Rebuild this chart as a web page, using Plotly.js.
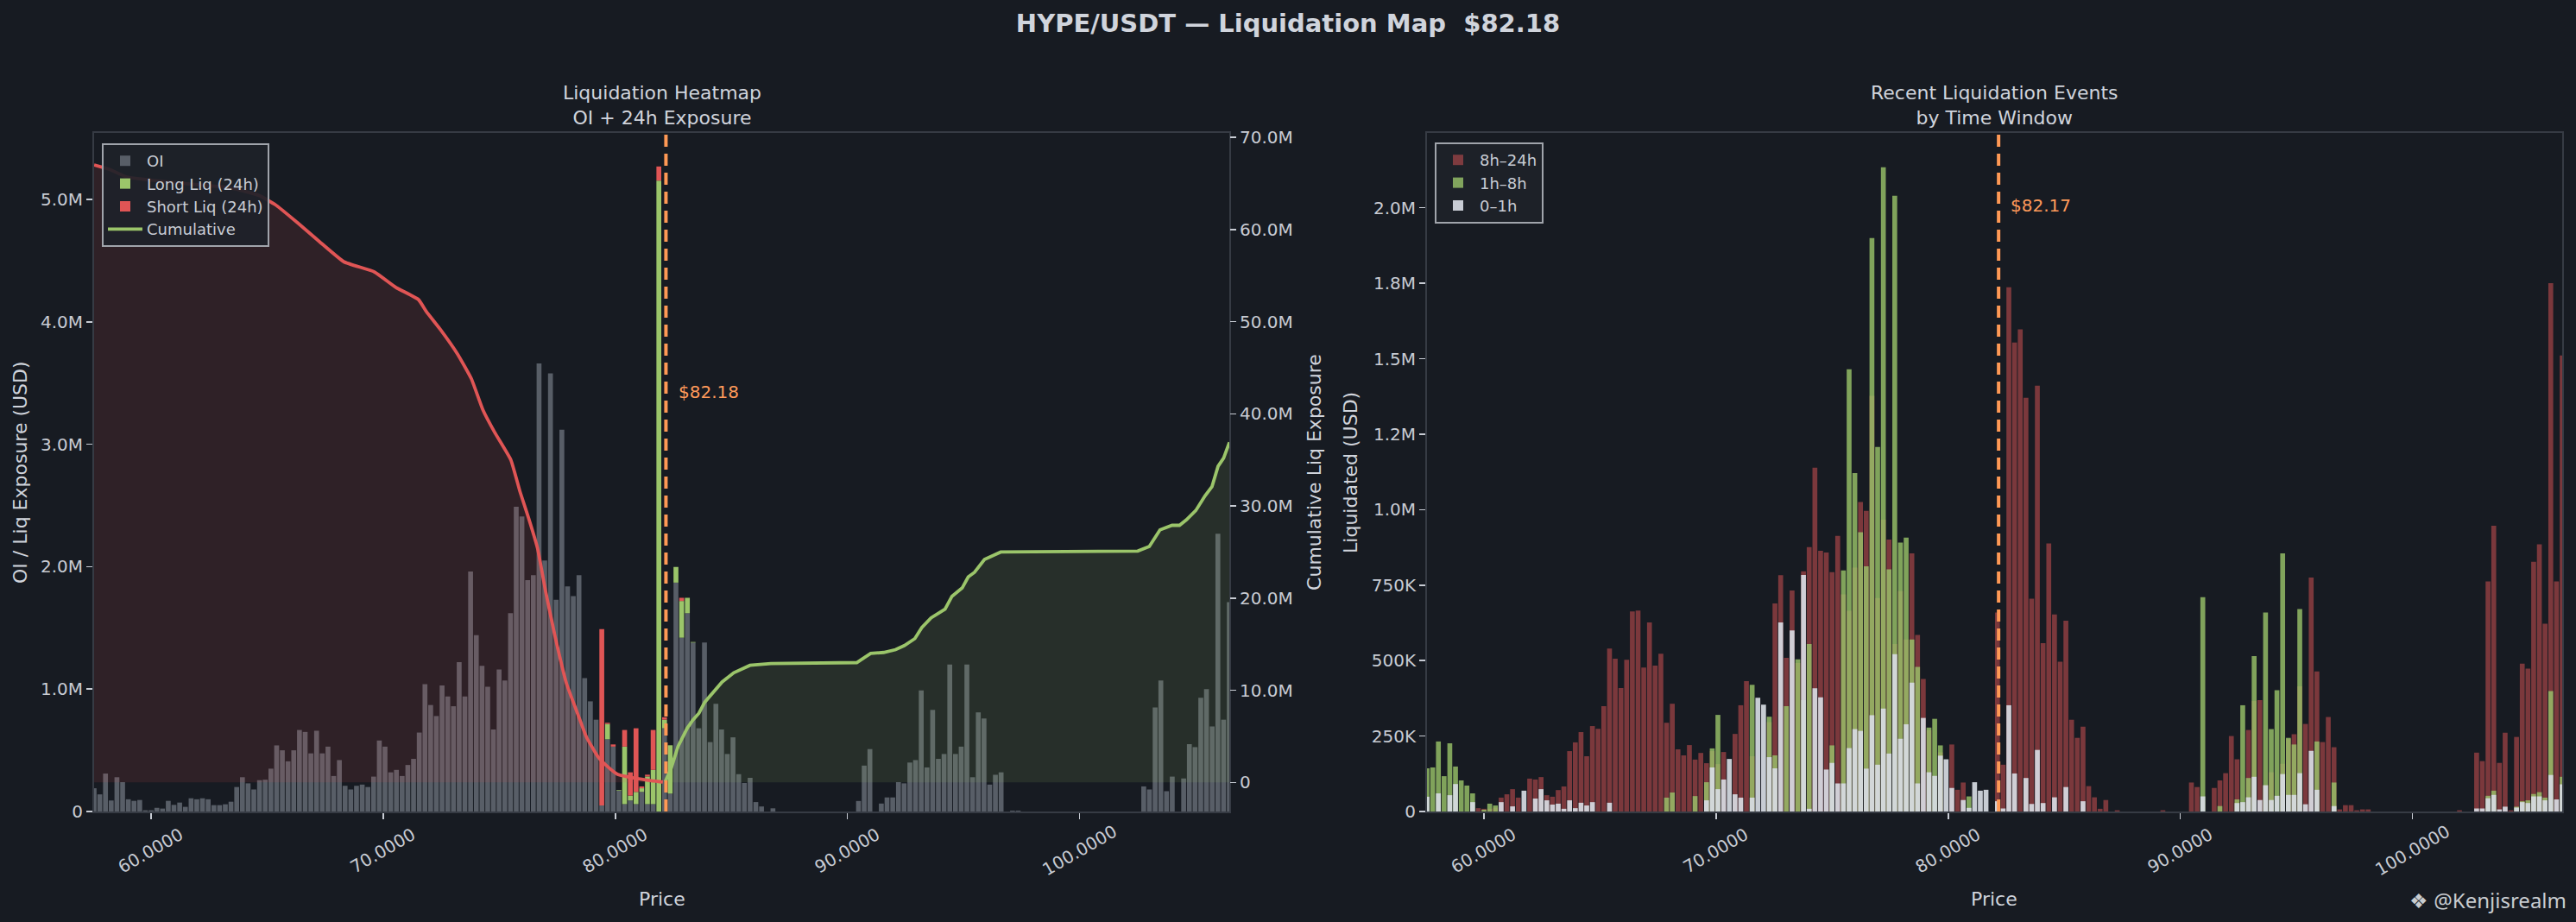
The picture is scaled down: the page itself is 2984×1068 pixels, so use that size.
<!DOCTYPE html>
<html>
<head>
<meta charset="utf-8">
<script src="https://cdn.plot.ly/plotly-3.0.1.min.js"></script>
<style>html,body{margin:0;padding:0;background:#171b22;}#chart{width:2984px;height:1068px;}</style>
</head>
<body>
<div id="chart"></div>
<script>
// ---------- price bins (200 bins) ----------
const priceStart = 57.55;
const priceStep = 0.2457;

// ---------- left panel: OI + 24h exposure (values in USD millions) ----------
const oiM = [
0.19,0.14,0.31,0.09,0.28,0.24,0.10,0.087,0.094,0.01,
0.01,0.03,0.024,0.087,0.054,0.073,0.038,0.108,0.10,0.108,
0.10,0.052,0.052,0.059,0.08,0.20,0.28,0.23,0.18,0.256,
0.26,0.35,0.54,0.50,0.41,0.50,0.666,0.65,0.475,0.66,
0.475,0.53,0.29,0.42,0.21,0.18,0.21,0.22,0.20,0.285,
0.58,0.53,0.32,0.34,0.29,0.38,0.43,0.645,1.04,0.87,
0.78,1.03,0.94,0.86,1.22,0.94,1.96,1.44,1.19,1.02,
0.67,1.16,1.07,1.62,2.49,2.41,1.89,1.93,3.66,2.05,
3.58,1.73,3.12,1.84,1.76,1.93,1.09,0.90,0.75,0.05,
0.59,0.53,0.17,0.06,0.09,0.06,0.16,0.06,0.06,0,
0.68,0.146,1.87,1.42,1.62,1.38,0.68,1.38,0.567,0.88,
0.67,0.47,0.606,0.305,0.233,0.275,0.077,0.041,0,0.026,
0,0,0,0,0,0,0,0,0,0,
0,0,0,0,0.086,0.375,0.51,0,0.065,0.115,
0.115,0.24,0.23,0.40,0.42,0.99,0.36,0.83,0.43,0.47,
1.20,0.47,0.53,1.20,0.28,0.81,0.76,0.22,0.30,0.32,
0,0.007,0.007,0,0,0,0,0,0,0,
0,0,0,0,0,0,0,0,0,0,
0,0,0,0,0.205,0.18,0.85,1.07,0.166,0.285,
0,0.27,0.55,0.526,0.93,1.0,0.695,2.27,0.75,1.71
];
const longM = [
0,0,0,0,0,0,0,0,0,0, 0,0,0,0,0,0,0,0,0,0,
0,0,0,0,0,0,0,0,0,0, 0,0,0,0,0,0,0,0,0,0,
0,0,0,0,0,0,0,0,0,0, 0,0,0,0,0,0,0,0,0,0,
0,0,0,0,0,0,0,0,0,0, 0,0,0,0,0,0,0,0,0,0,
0,0,0,0,0,0,0,0,0,0,
0.125,0,0.005,0.47,0.04,0.10,0.03,0.226,0.28,5.155,
0.07,0.395,0.128,0.30,0.126,0.005,0,0,0,0,
0,0,0,0,0,0,0,0,0,0, 0,0,0,0,0,0,0,0,0,0,
0,0,0,0,0,0,0,0,0,0, 0,0,0,0,0,0,0,0,0,0,
0,0,0,0,0,0,0,0,0,0, 0,0,0,0,0,0,0,0,0,0,
0,0,0,0,0,0,0,0,0,0, 0,0,0,0,0,0,0,0,0,0
];
const shortM = [
0,0,0,0,0,0,0,0,0,0, 0,0,0,0,0,0,0,0,0,0,
0,0,0,0,0,0,0,0,0,0, 0,0,0,0,0,0,0,0,0,0,
0,0,0,0,0,0,0,0,0,0, 0,0,0,0,0,0,0,0,0,0,
0,0,0,0,0,0,0,0,0,0, 0,0,0,0,0,0,0,0,0,0,
0,0,0,0,0,0,0,0,0,1.44,
0.01,0.018,0,0.136,0.19,0.52,0.015,0.015,0.326,0.115,
0.02,0,0,0.026,0,0,0,0,0,0,
0,0,0,0,0,0,0,0,0,0, 0,0,0,0,0,0,0,0,0,0,
0,0,0,0,0,0,0,0,0,0, 0,0,0,0,0,0,0,0,0,0,
0,0,0,0,0,0,0,0,0,0, 0,0,0,0,0,0,0,0,0,0,
0,0,0,0,0,0,0,0,0,0, 0,0,0,0,0,0,0,0,0,0
];

// cumulative exposure curves (USD millions, right axis)
const cumShortPrice = [57.55,58.24,58.95,60.6,63.46,64.65,65.35,66.28,67.25,68.31,69.62,70.56,71.52,71.86,72.45,73.2,73.8,74.3,74.8,75.5,75.9,76.25,76.65,77.0,77.4,77.9,78.4,78.76,79.26,79.6,80.1,80.9,81.5,82.05];
const cumShortM     = [67.0,66.5,65.7,65.2,64.5,63.7,62.7,60.8,58.7,56.5,55.4,53.7,52.4,51.1,49.2,46.5,43.8,40.4,38.0,35.0,31.5,28.8,25.4,20.7,15.9,10.7,7.3,4.9,2.75,1.86,0.87,0.43,0.2,0.03];
const cumLongPrice = [82.15,82.4,82.7,83.1,83.35,83.6,83.85,84.2,84.6,85.1,85.8,86.7,90.4,91.0,91.56,92.07,92.45,92.9,93.2,93.6,94.2,94.5,94.94,95.2,95.47,95.9,96.6,102.5,103.0,103.46,103.98,104.3,104.6,105.0,105.4,105.7,105.96,106.2,106.45];
const cumLongM     = [0.1,1.5,3.9,5.9,6.8,7.5,8.7,9.7,10.9,11.9,12.7,12.9,13.0,14.0,14.1,14.4,14.85,15.6,16.8,17.85,18.8,20.2,21.1,22.3,22.8,24.2,25.0,25.1,25.6,27.4,27.9,27.9,28.5,29.5,31.1,32.1,34.3,35.2,36.9];

// ---------- right panel: recent liquidations by window (USD thousands) ----------
const liq8to24K = [
0,0,0,0,0,0,0,0,0,11,
9,9,13,46,57,74,46,0,109,106,
114,54,49,71,83,200,229,263,183,283,
274,349,540,506,409,503,663,666,477,626,
483,523,294,357,206,186,220,172,194,160,
200,157,197,0,257,352,432,183,0,0,
296,689,783,509,732,492,796,876,1139,864,
858,793,913,719,665,808,1025,996,1377,707,
967,901,555,730,570,855,585,439,270,0,
196,0,222,72,96,0,0,0,0,0,
659,155,1737,1554,1597,1371,705,1411,558,888,
653,496,632,304,244,281,84,47,9,38,
0,4,0,0,0,0,0,0,0,4,
0,0,0,0,96,81,0,0,78,103,
127,250,173,0,270,366,369,87,130,0,
158,240,256,415,290,775,464,230,313,213,
7,21,21,4,7,7,0,0,0,0,
0,0,0,0,0,0,0,0,0,0,
0,4,0,0,195,167,762,947,161,261,
4,247,490,473,827,885,622,1750,762,1511
];
const liq1to8K = [
143,146,232,117,226,149,103,86,60,0,
6,26,20,0,0,0,0,0,0,0,
0,0,0,0,0,0,0,0,0,0,
0,0,0,0,0,0,0,0,0,0,
0,0,46,63,0,0,0,51,0,97,
209,320,0,0,0,0,0,420,0,0,
314,186,0,349,0,504,369,555,0,0,
0,219,0,799,1465,1121,925,812,1900,1208,
2134,802,2040,891,907,570,479,0,278,307,
219,0,0,0,0,50,0,0,0,0,
0,0,0,0,0,0,0,0,0,0,
0,0,0,0,0,0,0,0,0,0,
0,0,0,0,0,0,0,0,0,0,
0,0,0,0,0,0,710,0,0,18,
0,0,40,352,111,515,0,659,273,402,
855,244,222,671,0,0,232,0,0,96,
0,0,0,0,0,0,0,0,0,0,
0,0,0,0,0,0,0,0,0,0,
0,0,0,0,0,0,52,69,0,0,
0,16,34,37,58,64,46,399,0,115
];
const liq0to1K = [
49,0,60,0,54,91,0,0,31,0,
0,0,0,31,0,17,0,69,0,43,
74,37,23,26,9,37,11,29,20,31,
0,0,29,0,0,0,0,0,0,0,
0,0,0,0,0,0,0,0,0,37,
146,74,106,174,57,46,0,46,377,354,
180,143,626,0,600,0,784,9,408,378,
139,161,93,93,210,273,267,142,319,155,
341,192,521,241,289,427,93,310,130,118,
185,173,78,0,38,12,97,69,72,0,
34,10,352,126,0,111,25,204,28,0,
47,0,81,0,0,34,0,0,0,0,
0,0,0,0,0,0,0,0,0,0,
0,0,0,0,0,0,50,0,0,0,
0,0,28,31,47,115,38,87,38,52,
124,55,55,127,24,201,72,0,0,18,
0,0,0,0,0,0,0,0,0,0,
0,0,0,0,0,0,0,0,0,0,
0,0,0,0,10,10,44,55,7,16,
0,13,31,28,50,50,37,121,40,90
];

// ---------- labels ----------
const currentPriceLeft = 82.18;
const currentPriceRight = 82.17;
const xTickVals = [60, 70, 80, 90, 100];
const xTickText = ['60.0000', '70.0000', '80.0000', '90.0000', '100.0000'];
const yLeftTickVals = [0, 1, 2, 3, 4, 5];
const yLeftTickText = ['0', '1.0M', '2.0M', '3.0M', '4.0M', '5.0M'];
const yCumTickVals = [0, 10, 20, 30, 40, 50, 60, 70];
const yCumTickText = ['0', '10.0M', '20.0M', '30.0M', '40.0M', '50.0M', '60.0M', '70.0M'];
const yRightTickVals = [0, 250, 500, 750, 1000, 1250, 1500, 1750, 2000];
const yRightTickText = ['0', '250K', '500K', '750K', '1.0M', '1.2M', '1.5M', '1.8M', '2.0M'];

const prices = oiM.map((_, i) => +(priceStart + i * priceStep).toFixed(4));
const shortBase = oiM.map((v, i) => v + longM[i]);

const FONT = 'DejaVu Sans';
const TXT = '#c8ccd4';
const TITLE_C = '#d0d4dc';
const BG = '#171b22';
const BAR_W = 0.21;

const traces = [
  {type:'bar', x:prices, y:oiM, width:BAR_W, name:'OI', xaxis:'x', yaxis:'y',
   marker:{color:'#585e67', line:{width:0}}, legend:'legend', hoverinfo:'skip'},
  {type:'bar', x:prices, y:longM, base:oiM, width:BAR_W, name:'Long Liq (24h)', xaxis:'x', yaxis:'y',
   marker:{color:'#9bc56a', line:{width:0}}, legend:'legend', hoverinfo:'skip'},
  {type:'bar', x:prices, y:shortM, base:shortBase, width:BAR_W, name:'Short Liq (24h)', xaxis:'x', yaxis:'y',
   marker:{color:'#e05555', line:{width:0}}, legend:'legend', hoverinfo:'skip'},
  {type:'scatter', mode:'none', x:cumShortPrice, y:cumShortM, xaxis:'x', yaxis:'y2',
   fill:'tozeroy', fillcolor:'rgba(224,85,85,0.12)', showlegend:false, hoverinfo:'skip'},
  {type:'scatter', mode:'none', x:cumLongPrice, y:cumLongM, xaxis:'x', yaxis:'y2',
   fill:'tozeroy', fillcolor:'rgba(155,197,106,0.12)', showlegend:false, hoverinfo:'skip'},
  {type:'scatter', mode:'lines', x:cumShortPrice, y:cumShortM, xaxis:'x', yaxis:'y2',
   line:{color:'#e05555', width:3.8, shape:'spline', smoothing:0.4}, showlegend:false, hoverinfo:'skip'},
  {type:'scatter', mode:'lines', x:cumLongPrice, y:cumLongM, xaxis:'x', yaxis:'y2', name:'Cumulative',
   line:{color:'#9bc56a', width:3.8}, legend:'legend', hoverinfo:'skip'},
  {type:'bar', x:prices, y:liq8to24K, width:BAR_W, name:'8h–24h', xaxis:'x2', yaxis:'y3',
   marker:{color:'rgba(224,85,85,0.5)', line:{width:0}}, legend:'legend2', hoverinfo:'skip'},
  {type:'bar', x:prices, y:liq1to8K, width:BAR_W, name:'1h–8h', xaxis:'x2', yaxis:'y3',
   marker:{color:'rgba(155,197,106,0.8)', line:{width:0}}, legend:'legend2', hoverinfo:'skip'},
  {type:'bar', x:prices, y:liq0to1K, width:BAR_W, name:'0–1h', xaxis:'x2', yaxis:'y3',
   marker:{color:'rgba(215,219,227,0.92)', line:{width:0}}, legend:'legend2', hoverinfo:'skip'}
];

function baseAxis(extra) {
  return Object.assign({
    showgrid:false, zeroline:false, showline:true, linecolor:'#363b44', linewidth:2, mirror:true,
    ticks:'outside', ticklen:7, tickwidth:1.5, tickcolor:TXT,
    tickfont:{family:FONT, size:20, color:TXT}, automargin:false, fixedrange:true
  }, extra);
}

const xRange = [priceStart, priceStart + 199 * priceStep];

const annotations = [];
// subplot titles
annotations.push({text:'Liquidation Heatmap<br>OI + 24h Exposure', xref:'paper', yref:'paper', x:0.22998, y:1.0413,
  xanchor:'center', yanchor:'middle', showarrow:false, font:{family:FONT, size:22, color:TITLE_C}});
annotations.push({text:'Recent Liquidation Events<br>by Time Window', xref:'paper', yref:'paper', x:0.77002, y:1.0413,
  xanchor:'center', yanchor:'middle', showarrow:false, font:{family:FONT, size:22, color:TITLE_C}});
// x tick labels (rotated, centred under ticks)
xTickVals.forEach((v, k) => {
  ['x', 'x2'].forEach(ax => {
    annotations.push({text:xTickText[k], xref:ax, yref:'paper', x:v, y:-0.0573, xanchor:'center', yanchor:'middle',
      textangle:-30, showarrow:false, font:{family:FONT, size:20, color:TXT}});
  });
});
// axis titles
annotations.push({text:'Price', xref:'paper', yref:'paper', x:0.22998, y:-0.1285, xanchor:'center', yanchor:'middle',
  showarrow:false, font:{family:FONT, size:22, color:TITLE_C}});
annotations.push({text:'Price', xref:'paper', yref:'paper', x:0.77002, y:-0.1285, xanchor:'center', yanchor:'middle',
  showarrow:false, font:{family:FONT, size:22, color:TITLE_C}});
annotations.push({text:'OI / Liq Exposure (USD)', xref:'paper', yref:'paper', x:-0.0301, y:0.5, xanchor:'center', yanchor:'middle',
  textangle:-90, showarrow:false, font:{family:FONT, size:22, color:TITLE_C}});
annotations.push({text:'Cumulative Liq Exposure', xref:'paper', yref:'paper', x:0.4942, y:0.5, xanchor:'center', yanchor:'middle',
  textangle:-90, showarrow:false, font:{family:FONT, size:22, color:TITLE_C}});
annotations.push({text:'Liquidated (USD)', xref:'paper', yref:'paper', x:0.5089, y:0.5, xanchor:'center', yanchor:'middle',
  textangle:-90, showarrow:false, font:{family:FONT, size:22, color:TITLE_C}});
// current price labels
annotations.push({text:'$' + currentPriceLeft.toFixed(2), xref:'x', yref:'y', x:currentPriceLeft + 0.45, y:3.43,
  xanchor:'left', yanchor:'middle', showarrow:false, font:{family:FONT, size:20, color:'#ff9a5a'}});
annotations.push({text:'$' + currentPriceRight.toFixed(2), xref:'x2', yref:'y3', x:currentPriceRight + 0.45, y:2007,
  xanchor:'left', yanchor:'middle', showarrow:false, font:{family:FONT, size:20, color:'#ff9a5a'}});
// watermark
annotations.push({text:'❖ @Kenjisrealm', xref:'paper', yref:'paper', x:1.0024, y:-0.1298, xanchor:'right', yanchor:'middle',
  showarrow:false, font:{family:'Noto Sans', size:24, color:'#c8ccd0'}});

const layout = {
  width:2984, height:1068,
  paper_bgcolor:BG, plot_bgcolor:BG,
  margin:{l:109, r:16, t:154, b:128},
  font:{family:FONT, color:TXT},
  barmode:'overlay',
  title:{text:'<b>HYPE/USDT — Liquidation Map&nbsp; $82.18</b>', xref:'container', yref:'container', x:0.5, y:0.9747,
    xanchor:'center', yanchor:'middle', font:{family:FONT, size:29, color:TITLE_C}},
  xaxis: baseAxis({domain:[0, 0.45995], range:xRange, tickvals:xTickVals, showticklabels:false, anchor:'y'}),
  yaxis: baseAxis({domain:[0, 1], range:[0, 5.544], tickvals:yLeftTickVals, ticktext:yLeftTickText, anchor:'x'}),
  yaxis2: baseAxis({overlaying:'y', side:'right', anchor:'x', range:[-3.16, 70.48], tickvals:yCumTickVals, ticktext:yCumTickText,
    showline:false, mirror:false}),
  xaxis2: baseAxis({domain:[0.54005, 1], range:xRange, tickvals:xTickVals, showticklabels:false, anchor:'y3'}),
  yaxis3: baseAxis({domain:[0, 1], range:[0, 2248], tickvals:yRightTickVals, ticktext:yRightTickText, anchor:'x2'}),
  legend:{x:0.00315, y:0.9847, xref:'paper', yref:'paper', xanchor:'left', yanchor:'top',
    bgcolor:'rgba(30,34,41,0.92)', bordercolor:'#a0a4ab', borderwidth:2,
    font:{family:FONT, size:18, color:TXT}, itemwidth:40, tracegroupgap:0},
  legend2:{x:0.5432, y:0.986, xref:'paper', yref:'paper', xanchor:'left', yanchor:'top',
    bgcolor:'rgba(30,34,41,0.92)', bordercolor:'#a0a4ab', borderwidth:2,
    font:{family:FONT, size:18, color:TXT}, itemwidth:40, tracegroupgap:0},
  shapes:[
    {type:'line', xref:'x', yref:'y domain', x0:currentPriceLeft, x1:currentPriceLeft, y0:0, y1:1,
     line:{color:'#ff9955', width:4, dash:'14px,8px'}, layer:'above'},
    {type:'line', xref:'x2', yref:'y3 domain', x0:currentPriceRight, x1:currentPriceRight, y0:0, y1:1,
     line:{color:'#ff9955', width:4, dash:'14px,8px'}, layer:'above'}
  ],
  annotations:annotations,
  showlegend:true
};

Plotly.newPlot('chart', traces, layout, {staticPlot:true, displayModeBar:false});
</script>
</body>
</html>
